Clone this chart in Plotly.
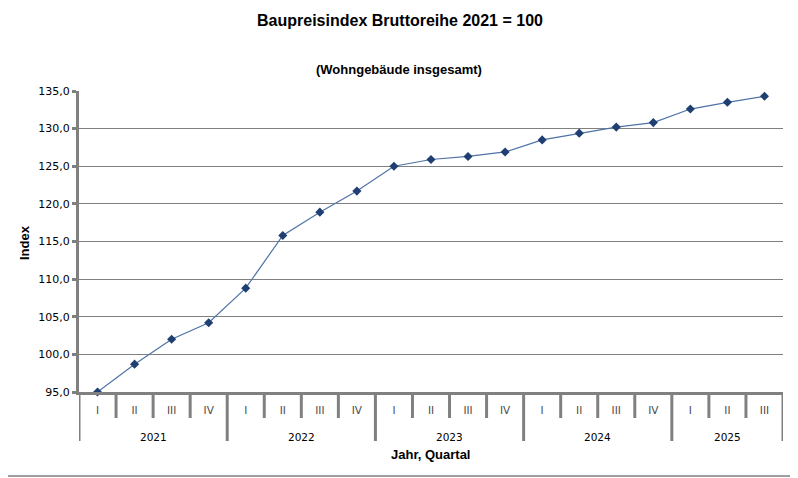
import plotly.graph_objects as go

# Baupreisindex Wohngebäude, Bruttoreihe (2021 = 100)
jahre = ["2021"] * 4 + ["2022"] * 4 + ["2023"] * 4 + ["2024"] * 4 + ["2025"] * 3
quartale = ["I", "II", "III", "IV"] * 4 + ["I", "II", "III"]
index_werte = [
    95.0, 98.7, 102.0, 104.2,
    108.8, 115.8, 118.9, 121.7,
    125.0, 125.9, 126.3, 126.9,
    128.5, 129.4, 130.2, 130.8,
    132.6, 133.5, 134.3,
]

GRAU = "#808080"
FONT = "Liberation Sans, Arial, sans-serif"
TICKFONT = "DejaVu Sans, Verdana, sans-serif"

# page body has an 8px margin, so the figure is 8px smaller and shifted
W, H = 790, 470
L, T = 71, 83
PW, PH = 704, 301
R, B = W - L - PW, H - T - PH

pos = list(range(len(index_werte)))

fig = go.Figure()

fig.add_trace(go.Scatter(
    x=pos,
    y=index_werte,
    mode="lines+markers",
    line=dict(color="#4f73a8", width=1.2),
    marker=dict(symbol="diamond", size=7, color="#1f3f73"),
    cliponaxis=False,
    showlegend=False,
))

shapes = []
annotations = []

# quarter separators and year dividers below the x axis
for i in range(len(pos) + 1):
    xb = i - 0.5
    neues_jahr = i == 0 or i == len(pos) or jahre[i] != jahre[i - 1]
    tief = 49 if neues_jahr else 26
    shapes.append(dict(
        type="line", xref="x", yref="paper",
        x0=xb, x1=xb, y0=0, y1=-tief / PH,
        line=dict(color=GRAU, width=3),
    ))

# year labels centred under their quarters
for jahr in dict.fromkeys(jahre):
    idx = [p for p, j in zip(pos, jahre) if j == jahr]
    annotations.append(dict(
        text=jahr, xref="x", yref="paper",
        x=sum(idx) / len(idx), y=0, yshift=-45,
        xanchor="center", yanchor="middle", showarrow=False,
        font=dict(size=10.5, family=TICKFONT, color="black"),
    ))

annotations.append(dict(
    text="<b>(Wohngebäude insgesamt)</b>",
    xref="paper", yref="paper", x=(391 - L) / PW, y=1.0, yshift=22,
    xanchor="center", yanchor="middle", showarrow=False,
    font=dict(size=13, family=FONT),
))

annotations.append(dict(
    text="<b>Jahr, Quartal</b>",
    xref="paper", yref="paper", x=(422.5 - L) / PW, y=0, yshift=-62,
    xanchor="center", yanchor="middle", showarrow=False,
    font=dict(size=13, family=FONT),
))

annotations.append(dict(
    text="<b>Index</b>", textangle=-90,
    xref="paper", yref="paper", x=(16.5 - L) / PW, y=(384 - 234.5) / PH,
    xanchor="center", yanchor="middle", showarrow=False,
    font=dict(size=13, family=FONT),
))

# outer chart frame (left/top edges fall into the page margin)
shapes.append(dict(
    type="rect", xref="paper", yref="paper",
    x0=-(L + 5) / PW, x1=1 + (R - 2) / PW,
    y0=-(B - 2) / PH, y1=1 + (T + 5) / PH,
    line=dict(color=GRAU, width=1.5), layer="below",
))

fig.update_layout(
    width=W,
    height=H,
    paper_bgcolor="white",
    plot_bgcolor="white",
    separators=",.",
    font=dict(family=FONT, size=11, color="black"),
    margin=dict(l=L, r=R, t=T, b=B, autoexpand=False),
    title=dict(
        text="<b>Baupreisindex Bruttoreihe 2021 = 100</b>",
        x=392 / W, xanchor="center", y=1 - 12 / H, yanchor="middle",
        font=dict(size=16, family=FONT),
    ),
    shapes=shapes,
    annotations=annotations,
)

fig.update_xaxes(
    range=[-0.5, len(pos) - 0.5],
    tickmode="array", tickvals=pos, ticktext=quartale,
    ticks="", showgrid=False, zeroline=False,
    showline=True, linecolor=GRAU, linewidth=3,
    tickfont=dict(size=10.5, family=TICKFONT, color="#4a4a4a"),
    ticklabelstandoff=6,
    automargin=False,
)

fig.update_yaxes(
    range=[95, 135], dtick=5, tick0=95, tickformat=".1f",
    showline=True, linecolor=GRAU, linewidth=3,
    ticks="outside", ticklen=4, tickwidth=3, tickcolor=GRAU,
    showgrid=True, gridcolor=GRAU, gridwidth=1,
    zeroline=False,
    tickfont=dict(size=11, family=TICKFONT),
    automargin=False,
)

fig.write_html("out.html")
